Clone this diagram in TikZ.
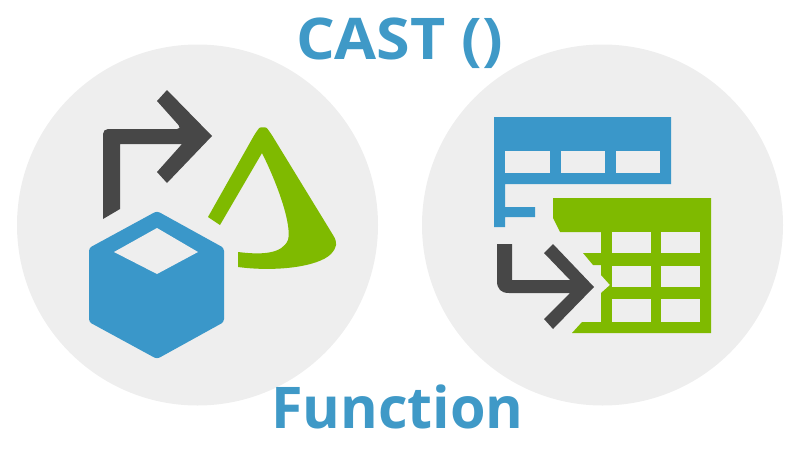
\documentclass[tikz,border=0pt]{standalone}
\usepackage{xcolor}
\usepackage{fontspec}
\setmainfont{Open Sans}
\usetikzlibrary{positioning, calc}
\definecolor{castblue}{HTML}{3F99C7}
\definecolor{iconblue}{HTML}{3A97C9}
\definecolor{icongreen}{HTML}{7FBA00}
\definecolor{icongray}{HTML}{474747}
\definecolor{discgray}{HTML}{EEEEEE}

\begin{document}
\begin{tikzpicture}[x=1pt, y=-1pt,
	disc/.style={fill=discgray},
	bluepart/.style={fill=iconblue},
	greenpart/.style={fill=icongreen},
	graypart/.style={fill=icongray},
	hole/.style={fill=discgray},
	title/.style={font=\fontsize{57.5}{60}\selectfont\bfseries, text=castblue, inner sep=0pt, anchor=base}]
	\useasboundingbox (0,0) rectangle (800,450);
	
	\fill [disc] (197.5,225) circle (180.5);
	\fill [disc] (602.5,225) circle (180.5);
	
	% left icon
	\fill [graypart] (103,219) -- (103,138) [rounded corners=5] -- (103,129) -- (182,129) [sharp corners] -- (157,101) -- (167,90) -- (212,136) -- (167,183) -- (157,172) -- (182,144) -- (120,144) -- (120,209) -- cycle;
	\fill [bluepart, rounded corners=3] (157,211) -- (224,248) -- (224,322) -- (157,359) -- (89,322) -- (89,248) -- cycle;
	\fill [hole] (157,228) -- (198,252) -- (157,274) -- (114,252) -- cycle;
	\fill [greenpart] (208,217) [rounded corners=5] -- (256,132) .. controls (260,127) and (266,127) .. (270,132) [sharp corners] -- (333,235) .. controls (338,243) and (337,247) .. (331,254) .. controls (318,267) and (275,272) .. (238,267) -- (238,252) .. controls (262,255) and (282,254) .. (288,240) .. controls (292,225) and (278,185) .. (262,153) -- (220,225) -- cycle;
	
	% right icon
	\fill [bluepart] (494,117) -- (671,117) -- (671,184) -- (505,184) -- (505,207) -- (535,207) -- (535,217) -- (505,217) -- (505,227) -- (494,227) -- cycle;
	\foreach \x/\w in {505/45, 561/44, 616/44}
		\fill [hole] (\x,151) rectangle ++(\w,22);
	
	\fill [greenpart] (553,198) -- (711,198) -- (711,333) -- (572,333) -- (582,322) -- (601,322) -- (601,293) -- (610,285) -- (601,275) -- (601,265) -- (593,265) -- (583,253) -- (601,253) -- (601,232) -- (560,232) -- (553,218) -- cycle;
	\foreach \y/\h in {232/21, 266/21, 299/23}
		\foreach \x in {612, 661}
			\fill [hole] (\x,\y) rectangle ++(39,\h);
	
	\fill [graypart] (497,244) -- (512,244) -- (512,280) -- (570,280) -- (544,253) -- (553,244) -- (594,287) -- (553,329) -- (544,319) -- (570,293) -- (509,293) .. controls (501,293) and (497,289) .. (497,281) -- cycle;
	
	\node [title, xscale=1.06] (cast) at (399.5,59) {CAST ()};
	\node [title] (function) at (397.5,428) {Function};
\end{tikzpicture}
\end{document}
